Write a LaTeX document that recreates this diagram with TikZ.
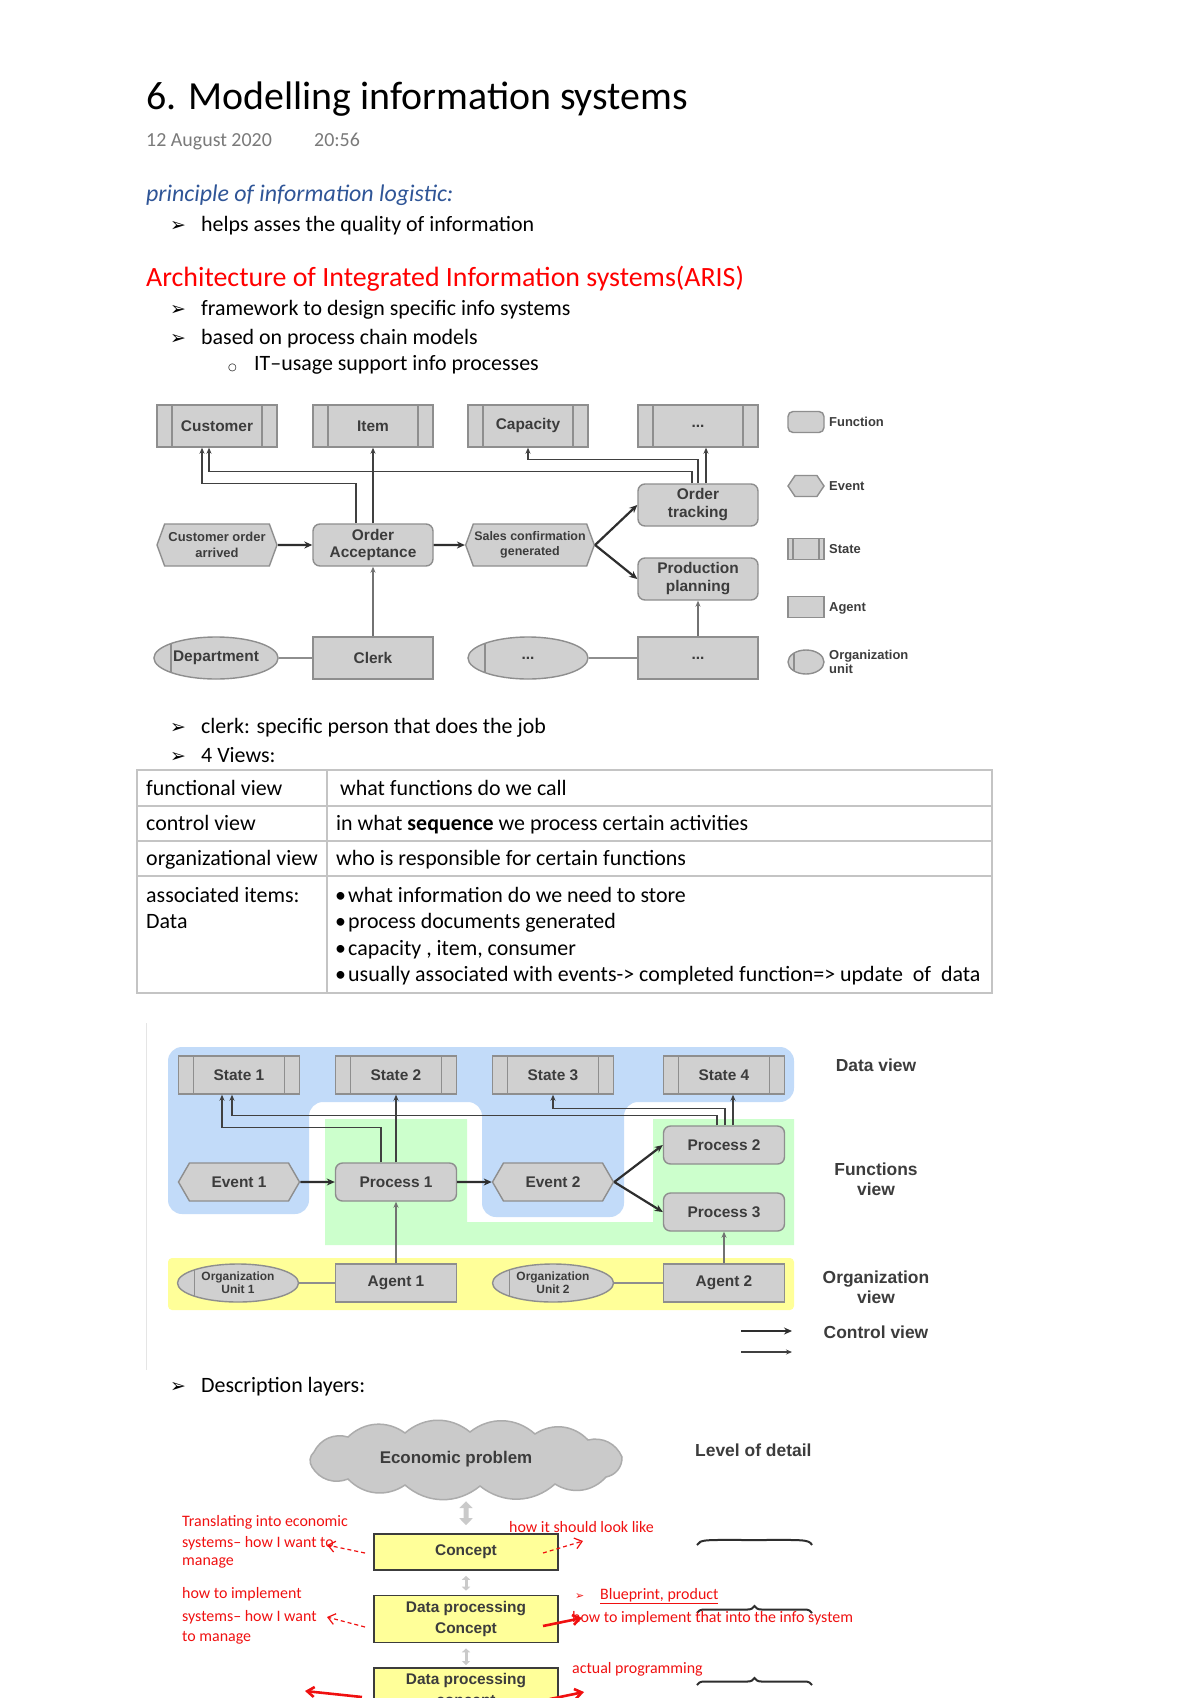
\documentclass[tikz,border=0pt]{standalone}
\usepackage{fontspec}
\setmainfont{Carlito}
\newfontfamily\arialfont{Liberation Sans}
\newfontfamily\dejavufont{DejaVu Sans}
\usetikzlibrary{arrows.meta,shapes.geometric,shapes.symbols,decorations.pathreplacing}

\definecolor{nodegray}{HTML}{D0D0D0}
\definecolor{edgegray}{HTML}{8E8E8E}
\definecolor{txtgray}{HTML}{3C3C3C}
\definecolor{ctrlgray}{HTML}{2E2E2E}
\definecolor{datagray}{HTML}{404040}
\definecolor{datablue}{HTML}{C2DBF9}
\definecolor{fungreen}{HTML}{CCFFCC}
\definecolor{orgyellow}{HTML}{FFFF99}
\definecolor{notered}{HTML}{F01010}
\definecolor{headred}{HTML}{FF0000}
\definecolor{logblue}{HTML}{2F5597}
\definecolor{dategray}{HTML}{7A7A7A}
\definecolor{tablegray}{HTML}{C4C4C4}
\definecolor{cloudgray}{HTML}{CACACA}

\newcommand\fsz[2]{\fontsize{#1}{#2}\selectfont}
\newcommand\bul{\makebox[31bp][l]{\dejavufont\fsz{19}{19}➢}}
\newcommand\sbul{\makebox[26bp][l]{\dejavufont\fsz{10}{10}○}}
\newcommand\tbul{\makebox[13bp][l]{•}}

\begin{document}
\begin{tikzpicture}[x=1bp, y=-1bp,
    txt/.style={anchor=base west, inner sep=0pt},
    body/.style={txt, font=\fsz{22}{27}},
    note/.style={txt, text=notered, font=\fsz{16}{19}},
    aris/.style={draw=edgegray, fill=nodegray, line width=1.4bp, text=txtgray,
        font=\arialfont\bfseries\fsz{15.5}{18}, align=center, inner sep=1bp,
        minimum width=120bp, minimum height=42bp},
    statebox/.style={aris, rectangle, path picture={
        \draw[edgegray, line width=1.2bp]
          ([xshift=#1]path picture bounding box.north west) -- ([xshift=#1]path picture bounding box.south west)
          ([xshift=-#1]path picture bounding box.north east) -- ([xshift=-#1]path picture bounding box.south east);}},
    statebox/.default=15bp,
    func/.style={aris, rectangle, rounded corners=7bp},
    eventbox/.style={aris, signal, signal to=west and east, signal pointer angle=#1},
    eventbox/.default=140,
    orgunit/.style={aris, ellipse, path picture={
        \draw[edgegray, line width=1.2bp]
          ([xshift=#1]path picture bounding box.north west) -- ([xshift=#1]path picture bounding box.south west);}},
    orgunit/.default=17bp,
    agent/.style={aris, rectangle},
    legend/.style={minimum width=36bp, minimum height=21bp},
    view2/.style={minimum width=121bp, minimum height=38bp},
    lgtext/.style={anchor=west, inner sep=0pt, text=txtgray, font=\arialfont\bfseries\fsz{13}{14}, align=left},
    viewtext/.style={inner sep=0pt, text=txtgray, font=\arialfont\bfseries\fsz{17.5}{20}, align=center},
    ctrl/.style={-{Stealth[length=8bp,width=7bp]}, line width=2.2bp, draw=ctrlgray},
    data/.style={-{Stealth[length=6bp,width=5bp]}, line width=1.4bp, draw=datagray},
    orglink/.style={line width=1.4bp, draw=edgegray},
    assign/.style={-{Stealth[length=6bp,width=5bp]}, line width=1.2bp, draw=edgegray!80!black},
    tableline/.style={draw=tablegray, line width=2.5bp},
    layer/.style={draw=txtgray, fill=orgyellow, line width=1.6bp, text=txtgray,
        font=\arialfont\bfseries\fsz{15.5}{21}, align=center, minimum width=184bp},
    layerlink/.style={{Triangle[length=7bp,width=13bp]}-{Triangle[length=7bp,width=13bp]}, line width=5bp, draw=cloudgray},
    smalllink/.style={{Triangle[length=4bp,width=8bp]}-{Triangle[length=4bp,width=8bp]}, line width=3bp, draw=cloudgray},
    notelink/.style={-{Straight Barb[length=7bp,width=11bp]}, draw=notered, line width=1.2bp, dash pattern=on 4bp off 3bp},
    inklink/.style={-{Straight Barb[length=7bp,width=10bp]}, draw=notered, line width=2.6bp},
    bracket/.style={draw=ctrlgray, line width=2bp}
]

% page
\useasboundingbox (0,0) rectangle (1200,1698);
\clip (0,0) rectangle (1200,1698);
\fill[white] (0,0) rectangle (1200,1698);

% header
\node[txt, font=\fsz{40}{44}] (title) at (146,109) {6. Modelling information systems};
\node[txt, text=dategray, font=\fsz{20}{24}] (date) at (146,146) {12 August 2020};
\node[txt, text=dategray, font=\fsz{20}{24}] (time) at (314,146) {20:56};
\node[txt, text=logblue, font=\itshape\fsz{24}{28}] (logistic) at (146,201) {principle of information logistic:};
\node[body] (quality) at (170,231) {\bul helps asses the quality of information};
\node[txt, text=headred, font=\fsz{28}{32}] (arishead) at (146,286) {Architecture of Integrated Information systems(ARIS)};
\node[body] (framework) at (170,315) {\bul framework to design specific info systems};
\node[body] (chain) at (170,344) {\bul based on process chain models};
\node[body] (itusage) at (228,370) {\sbul IT–usage support info processes};

% ARIS example: data view
\node[statebox] (cust) at (217,426) {Customer};
\node[statebox] (item) at (373,426) {Item};
\node[statebox] (cap) at (528,426) {Capacity};
\node[statebox] (moredata) at (698,426) {...};

% functions and events
\node[func] (ordertrack) at (698,505) {Order\\tracking};
\node[eventbox, font=\arialfont\bfseries\fsz{13}{15.5}] (custorder) at (217,545) {Customer order\\arrived};
\node[func] (orderacc) at (373,545) {Order\\Acceptance};
\node[eventbox, minimum width=128bp, font=\arialfont\bfseries\fsz{12.5}{15}] (salesconf) at (530,545) {Sales confirmation\\generated};
\node[func] (prodplan) at (698,579) {Production\\planning};

% organization
\node[orgunit] (dept) at (216,658) {Department};
\node[agent] (clerk) at (373,658) {Clerk};
\node[orgunit] (moreunit) at (528,658) {...};
\node[agent] (moreagent) at (698,658) {...};

% legend
\node[func, legend, rounded corners=5bp] (lgfunc) at (806,422) {};
\node[eventbox=112, legend] (lgevent) at (806,486) {};
\node[statebox=5bp, legend] (lgstate) at (806,549) {};
\node[agent, legend] (lgagent) at (806,607) {};
\node[orgunit=6bp, legend, minimum height=24bp] (lgorg) at (806,662) {};
\node[lgtext] (lgfunctext) at (829,422) {Function};
\node[lgtext] (lgeventtext) at (829,486) {Event};
\node[lgtext] (lgstatetext) at (829,549) {State};
\node[lgtext] (lgagenttext) at (829,608) {Agent};
\node[lgtext] (lgorgtext) at (829,662) {Organization\\unit};

% control flow
\draw[ctrl] (custorder) -- (orderacc);
\draw[ctrl] (orderacc) -- (salesconf);
\draw[ctrl] (salesconf.east) -- (ordertrack.west);
\draw[ctrl] (salesconf.east) -- (prodplan.west);
% data links
\draw[data] ([xshift=-17bp]orderacc.north) -- ++(0,-40) -| ([xshift=-15bp]cust.south);
\draw[data] (orderacc) -- (item);
\draw[data] ([xshift=-6bp]ordertrack.north) -- ++(0,-12) -| ([xshift=-8bp]cust.south);
\draw[data] (ordertrack.north) -- ++(0,-24) -| (cap.south);
\draw[data] ([xshift=8bp]ordertrack.north) -- ([xshift=8bp]moredata.south);
% organization links
\draw[orglink] (dept) -- (clerk);
\draw[orglink] (moreunit) -- (moreagent);
\draw[assign] (clerk) -- (orderacc);
\draw[assign] (moreagent) -- (prodplan);

\node[body] (clerknote) at (170,733) {\bul clerk: specific person that does the job};
\node[body] (views) at (170,762) {\bul 4 Views:};

% table of views
\draw[tableline] (137,770) rectangle (992,993);
\foreach \y in {806,841,876}
  \draw[tableline] (137,\y) -- (992,\y);
\draw[tableline] (327,770) -- (327,993);
\node[body] (t1a) at (146,795) {functional view};
\node[body] (t1b) at (340,795) {what functions do we call};
\node[body] (t2a) at (146,830) {control view};
\node[body] (t2b) at (336,830) {in what \textbf{sequence} we process certain activities};
\node[body] (t3a) at (146,865) {organizational view};
\node[body] (t3b) at (336,865) {who is responsible for certain functions};
\node[body] (t4a) at (146,902) {associated items:};
\node[body] (t4b) at (146,928) {Data};
\node[body] (t4c) at (335,902) {\tbul what information do we need to store};
\node[body] (t4d) at (335,928) {\tbul process documents generated};
\node[body] (t4e) at (335,955) {\tbul capacity , item, consumer};
\node[body] (t4f) at (335,981) {\tbul usually associated with events-> completed function=> update~ of~ data};

% views diagram: regions
\draw[gray!20, line width=1bp] (146,1023) -- (146,1370);
\fill[datablue, rounded corners=14bp] (168,1047) -- (794,1047) -- (794,1102) -- (624,1102)
  -- (624,1217) -- (482,1217) -- (482,1102) -- (309,1102) -- (309,1214) -- (168,1214) -- cycle;
\fill[fungreen] (325,1119) -- (467,1119) -- (467,1222) -- (653,1222) -- (653,1119)
  -- (794,1119) -- (794,1245) -- (325,1245) -- cycle;
\fill[orgyellow, rounded corners=4bp] (168,1258) rectangle (794,1310);

\node[statebox, view2] (st1) at (239,1075) {State 1};
\node[statebox, view2] (st2) at (396,1075) {State 2};
\node[statebox, view2] (st3) at (553,1075) {State 3};
\node[statebox, view2] (st4) at (724,1075) {State 4};
\node[eventbox=120, view2] (ev1) at (239,1182) {Event 1};
\node[func, view2] (pr1) at (396,1182) {Process 1};
\node[eventbox=120, view2] (ev2) at (553,1182) {Event 2};
\node[func, view2] (pr2) at (724,1145) {Process 2};
\node[func, view2] (pr3) at (724,1212) {Process 3};
\node[orgunit, view2, font=\arialfont\bfseries\fsz{12}{13}] (ou1) at (238,1283) {Organization\\Unit 1};
\node[agent, view2] (ag1) at (396,1283) {Agent 1};
\node[orgunit, view2, font=\arialfont\bfseries\fsz{12}{13}] (ou2) at (553,1283) {Organization\\Unit 2};
\node[agent, view2] (ag2) at (724,1283) {Agent 2};

\node[viewtext] (dataview) at (876,1065) {Data view};
\node[viewtext] (funview) at (876,1179) {Functions\\view};
\node[viewtext] (orgview) at (876,1287) {Organization\\view};
\node[viewtext] (ctrlview) at (876,1332) {Control view};
\coordinate (cva) at (741,1331);
\coordinate (cvb) at (792,1331);
\coordinate (cvc) at (741,1352);
\coordinate (cvd) at (792,1352);
\draw[ctrl] (cva) -- (cvb);
\draw[data] (cvc) -- (cvd);

\draw[ctrl] (ev1) -- (pr1);
\draw[ctrl] (pr1) -- (ev2);
\draw[ctrl] (ev2.east) -- (pr2.west);
\draw[ctrl] (ev2.east) -- (pr3.west);
\draw[data] ([xshift=-15bp]pr1.north) -- ++(0,-35) -| ([xshift=-17bp]st1.south);
\draw[data] (pr1) -- (st2);
\draw[data] ([xshift=-7bp]pr2.north) -- ++(0,-10) -| ([xshift=-7bp]st1.south);
\draw[data] ([xshift=1bp]pr2.north) -- ++(0,-17) -| (st3.south);
\draw[data] ([xshift=9bp]pr2.north) -- ([xshift=9bp]st4.south);
\draw[orglink] (ou1) -- (ag1);
\draw[orglink] (ou2) -- (ag2);
\draw[assign] (ag1) -- (pr1);
\draw[assign] (ag2) -- (pr3);

% description layers
\node[body] (layers) at (170,1392) {\bul Description layers:};
\draw[draw=gray!65, fill=cloudgray, line width=1.5bp]
  (314,1452) to[bend left=40] (348,1437) to[bend left=40] (405,1433) to[bend left=40] (470,1432)
  to[bend left=40] (535,1434) to[bend left=40] (588,1440) to[bend left=40] (622,1457)
  to[bend left=40] (606,1477) to[bend left=40] (555,1484) to[bend left=40] (480,1486)
  to[bend left=40] (405,1485) to[bend left=40] (348,1479) to[bend left=40] (312,1467)
  to[bend left=40] (314,1452) -- cycle;
\node[inner sep=0pt, minimum height=66bp, text=txtgray, font=\arialfont\bfseries\fsz{17}{20}] (eco) at (456,1459) {Economic problem};
\node[txt, text=txtgray, font=\arialfont\bfseries\fsz{17.5}{20}] (detail) at (695,1456) {Level of detail};
\node[layer, minimum height=36bp] (concept) at (466,1552) {Concept};
\node[layer, minimum height=47bp] (dpconcept) at (466,1619) {Data processing\\Concept};
\node[layer, minimum height=47bp, anchor=north] (dpconcept2) at (466,1667) {Data processing\\concept};
\draw[layerlink, shorten <=9bp, shorten >=8bp] ([xshift=10bp]eco.south) -- (concept.north);
\draw[smalllink, shorten <=5bp, shorten >=4bp] (concept) -- (dpconcept);
\draw[smalllink, shorten <=5bp, shorten >=2bp] (dpconcept) -- (dpconcept2);

% level of detail brackets
\draw[bracket] (697,1545) .. controls (700,1539) and (706,1540) .. (754,1540)
  .. controls (802,1540) and (809,1539) .. (812,1545);
\draw[bracket, decorate, decoration={brace, amplitude=7bp}] (697,1613) -- (812,1613);
\draw[bracket, decorate, decoration={brace, amplitude=7bp}] (697,1685) -- (812,1685);

% handwritten notes
\node[note] (trans1) at (182,1526) {Translating into economic};
\node[note] (trans2) at (182,1547) {systems– how I want to};
\node[note] (trans3) at (182,1565) {manage};
\node[note] (look) at (509,1532) {how it should look like};
\node[note] (impl1) at (182,1598) {how to implement};
\node[note] (impl2) at (182,1621) {systems– how I want};
\node[note] (impl3) at (182,1641) {to manage};
\node[note] (blueprint) at (575,1599) {\makebox[25bp][l]{\dejavufont\fsz{11}{11}➢}\underline{Blueprint, product}};
\node[note] (implinfo) at (572,1622) {how to implement that into the info system};
\node[note] (prog) at (572,1673) {actual programming};
\coordinate (na1) at (365,1553);
\coordinate (na2) at (327,1545);
\coordinate (nb1) at (543,1553);
\coordinate (nb2) at (583,1541);
\coordinate (nc1) at (365,1627);
\coordinate (nc2) at (327,1617);
\coordinate (nd1) at (543,1626);
\coordinate (nd2) at (582,1618);
\coordinate (ne1) at (362,1697);
\coordinate (ne2) at (305,1691);
\coordinate (nf1) at (550,1699);
\coordinate (nf2) at (584,1692);
\draw[notelink] (na1) -- (na2);
\draw[notelink] (nb1) -- (nb2);
\draw[notelink] (nc1) -- (nc2);
\draw[inklink] (nd1) -- (nd2);
\draw[inklink] (ne1) -- (ne2);
\draw[inklink] (nf1) -- (nf2);

\end{tikzpicture}
\end{document}
